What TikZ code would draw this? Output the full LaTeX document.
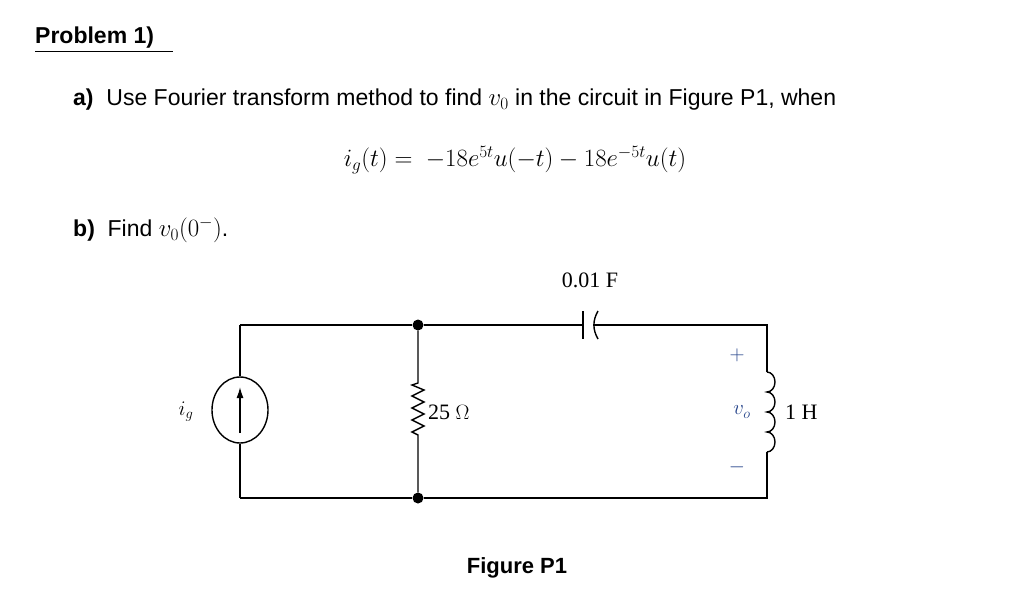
\documentclass[tikz,border=0pt]{standalone}
\usepackage{fontspec}
\setmainfont{Liberation Sans}
\newfontfamily\serif{Liberation Serif}
\usetikzlibrary{shapes.geometric,arrows.meta}
\begin{document}
\begin{tikzpicture}[x=1pt,y=-1pt,
  txt/.style={anchor=west,inner sep=0,font=\fontsize{23}{28}\selectfont},
  ctxt/.style={inner sep=0,font=\serif\fontsize{22}{26}\selectfont},
  wire/.style={line width=1.4pt},
  dot/.style={circle,fill=black,inner sep=0,minimum size=11pt}]
\useasboundingbox[fill=white] (0,0) rectangle (1024,605);
\node[txt,font=\bfseries\fontsize{23}{28}\selectfont] (p) at (35,38) {Problem 1)};
\draw[line width=1pt] (35,51) -- (173,51);
\node[txt] (a) at (73,100) {\textbf{a)}\ \ Use Fourier transform method to find $v_0$ in the circuit in Figure P1, when};
\node[inner sep=0,font=\fontsize{23}{28}\selectfont] (eq) at (515,160) {$i_g(t) =\ -18e^{5t}u(-t) - 18e^{-5t}u(t)$};
\node[txt] (b) at (73,230) {\textbf{b)}\ \ Find $v_0(0^{-})$.};
% circuit
\coordinate (tl) at (240,325); \coordinate (bl) at (240,498);
\coordinate (tr) at (767,325); \coordinate (br) at (767,498);
\node[dot] (jt) at (418,325) {}; \node[dot] (jb) at (418,498) {};
\node[draw,wire,ellipse,minimum width=56pt,minimum height=66pt,inner sep=0] (src) at (240,410) {};
\draw[wire] (tl) -- (src.north); \draw[wire] (src.south) -- (bl);
\draw[wire,-{Latex[length=11pt,width=7pt]}] (240,433) -- (240,387);
\draw[wire] (tl) -- (jt) -- (583,325);
\draw[wire] (583,311) -- (583,339);
\draw[wire] (598,311) to[bend right=30] (598,339);
\draw[wire] (593,325) -- (tr) -- (767,372);
\draw[wire] (767,372) \foreach \k in {0,...,3}{ arc[start angle=-90,end angle=90,x radius=8,y radius=10] };
\draw[wire] (jt) -- (418,383)
  -- (412,385) -- (424,390) -- (412,396) -- (424,402) -- (412,408) -- (424,414) -- (412,420) -- (424,426) -- (412,432) -- (418,435)
  -- (jb);
\draw[wire] (bl) -- (jb) -- (br) -- (767,452);
\node[ctxt] (c) at (590,280) {0.01 F};
\node[ctxt,anchor=west] (r) at (428,412) {25 $\Omega$};
\node[ctxt,anchor=west] (l) at (785,412) {1 H};
\node[ctxt] (ig) at (186,412) {$i_g$};
\node[ctxt,text={rgb,255:red,40;green,70;blue,140}] (vo) at (742,412) {$v_o$};
\node[ctxt,text={rgb,255:red,40;green,70;blue,140}] (pl) at (737,355) {$+$};
\node[ctxt,text={rgb,255:red,40;green,70;blue,140}] (mi) at (737,467) {$-$};
\node[inner sep=0,font=\bfseries\fontsize{22}{26}\selectfont] (fig) at (517,568) {Figure P1};
\end{tikzpicture}
\end{document}
